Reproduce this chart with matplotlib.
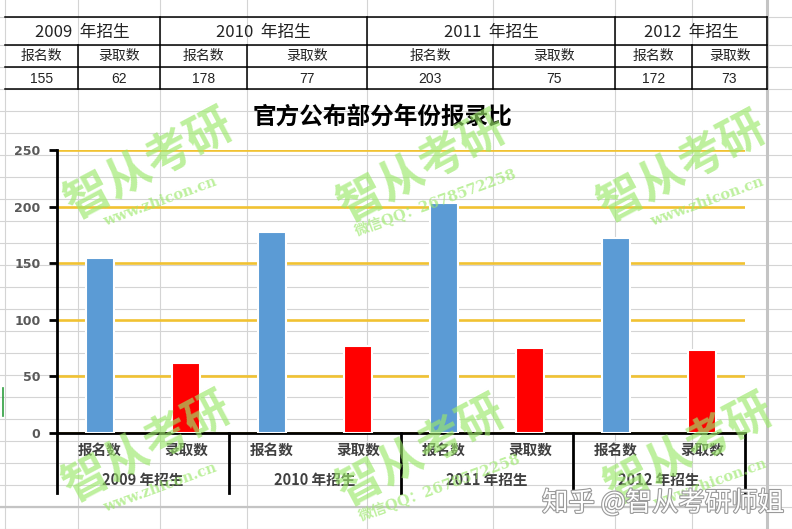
import numpy as np
import matplotlib
matplotlib.use("Agg")
import matplotlib.pyplot as plt
import matplotlib.patheffects as pe
from matplotlib.transforms import blended_transform_factory

plt.rcParams['font.family'] = ['Noto Sans CJK SC', 'DejaVu Sans']

# data
years = ['2009', '2010', '2011', '2012']
applied = [155, 178, 203, 172]
admitted = [62, 77, 75, 73]
sub_labels = ['报名数', '录取数']
title = '官方公布部分年份报录比'
y_ticks = [0, 50, 100, 150, 200, 250]

W, H = 792, 529
fig = plt.figure(figsize=(W / 100, H / 100), dpi=100)
fig.patch.set_facecolor('white')

# spreadsheet background, pixel coordinates
bg = fig.add_axes([0, 0, 1, 1], zorder=0)
bg.set_xlim(0, W)
bg.set_ylim(H, 0)
bg.axis('off')

col_edges = [5, 78, 160, 247, 367, 493, 615, 692, 767]
row_edges = [17, 45, 67] + list(np.arange(89, H + 1, 22))
grid_c = '#d4d4d4'
for x in col_edges:
    bg.plot([x, x], [0, H], color=grid_c, lw=0.8)
for y in row_edges:
    bg.plot([0, W], [y, y], color=grid_c, lw=0.8)
bg.plot([767, 767], [0, H], color='#c4c4c4', lw=2.2)
bg.plot([0, 767], [507, 507], color='#c4c4c4', lw=1.6)
bg.plot([3, 3], [388, 416], color='#2e9e3e', lw=1.2)

# table at the top
tab_top, r1, r2, tab_bot = 17, 45, 67, 89
group_edges = [5, 160, 367, 615, 767]
inner_edges = [78, 247, 493, 692]
for y in [tab_top, r1, r2, tab_bot]:
    bg.plot([5, 767], [y, y], color='black', lw=1.1)
for x in group_edges[1:]:
    bg.plot([x, x], [tab_top, tab_bot], color='black', lw=1.1)
for x in inner_edges:
    bg.plot([x, x], [r1, tab_bot], color='black', lw=1.1)

for i, yr in enumerate(years):
    x0, x1, xm = group_edges[i], group_edges[i + 1], inner_edges[i]
    bg.text((x0 + x1) / 2, (tab_top + r1) / 2 + 1, yr + '  年招生', ha='center',
            va='center', fontsize=12, color='#222222', fontweight='light')
    bg.text((x0 + xm) / 2, (r1 + r2) / 2, sub_labels[0], ha='center', va='center',
            fontsize=10, color='#222222', fontweight='light')
    bg.text((xm + x1) / 2, (r1 + r2) / 2, sub_labels[1], ha='center', va='center',
            fontsize=10, color='#222222', fontweight='light')
    bg.text((x0 + xm) / 2, (r2 + tab_bot) / 2 + 1, str(applied[i]), ha='center',
            va='center', fontsize=10, color='#222222', family='Liberation Sans')
    bg.text((xm + x1) / 2, (r2 + tab_bot) / 2 + 1, str(admitted[i]), ha='center',
            va='center', fontsize=10, color='#222222', family='Liberation Sans')

# chart
ax = fig.add_axes([57 / W, (H - 433) / H, 688 / W, 283 / H], zorder=1)
ax.patch.set_alpha(0)

pos = np.arange(len(years) * 2)
vals = [v for pair in zip(applied, admitted) for v in pair]
cols = ['#5b9bd5', '#ff0000'] * len(years)
ax.bar(pos, vals, width=0.33, color=cols, edgecolor='white', linewidth=1.5, zorder=3)

ax.set_xlim(-0.5, len(pos) - 0.5)
ax.set_ylim(0, 250)
ax.set_yticks(y_ticks)
ax.yaxis.grid(True, color='#f1c232', lw=1.9, zorder=1)
ax.set_axisbelow(True)
ax.set_xticks([])
for s in ['top', 'right']:
    ax.spines[s].set_visible(False)
for s in ['left', 'bottom']:
    ax.spines[s].set_linewidth(2)
    ax.spines[s].set_color('black')
ax.tick_params(axis='y', direction='out', length=6, width=2, color='black', pad=6,
               labelsize=9, labelcolor='#595959')
for lab in ax.get_yticklabels():
    lab.set_fontweight('bold')
    lab.set_family('DejaVu Sans')

trans = blended_transform_factory(ax.transData, ax.transAxes)
for i, p in enumerate(pos):
    ax.text(p, -0.06, sub_labels[i % 2], transform=trans, ha='center', va='center',
            fontsize=10.5, fontweight='bold', color='#404040')
for g, yr in enumerate(years):
    ax.text(2 * g + 0.5, -0.165, yr + ' 年招生', transform=trans, ha='center',
            va='center', fontsize=10.5, fontweight='bold', color='#404040')
for b in np.arange(-0.5, len(pos), 2):
    ax.plot([b, b], [0, -0.212], transform=trans, color='black', lw=2, clip_on=False)

fig.text(383 / W, 1 - 117 / H, title, ha='center', va='center', fontsize=17,
         fontweight='bold', color='black')

# watermarks
wm_green = '#9be86a'
marks = [(150, 165, (160, 202), 'www.zhicon.cn'),
         (423, 168, (436, 203), '微信QQ：2678572258'),
         (683, 168, (707, 202), 'www.zhicon.cn'),
         (148, 448, (160, 488), 'www.zhicon.cn'),
         (422, 452, (440, 488), '微信QQ：2678572258'),
         (690, 450, (710, 484), 'www.zhicon.cn')]
for x, y, (sx, sy), sub in marks:
    fig.text(x / W, 1 - y / H, '智从考研', ha='center', va='center', fontsize=33,
             fontweight='bold', color=wm_green, alpha=0.65, rotation=28, zorder=5)
    fig.text(sx / W, 1 - sy / H, sub, ha='center', va='center', fontsize=10.5,
             fontweight='bold', color=wm_green, alpha=0.65, rotation=20, zorder=5,
             family=['DejaVu Serif', 'Noto Sans CJK SC'])

fig.text(663 / W, 1 - 503 / H, '知乎 @智从考研师姐', ha='center', va='center',
         fontsize=19, color='white', zorder=6,
         path_effects=[pe.withStroke(linewidth=1.6, foreground='#9a9a9a')])

fig.savefig('out.png', dpi=100, facecolor='white')
